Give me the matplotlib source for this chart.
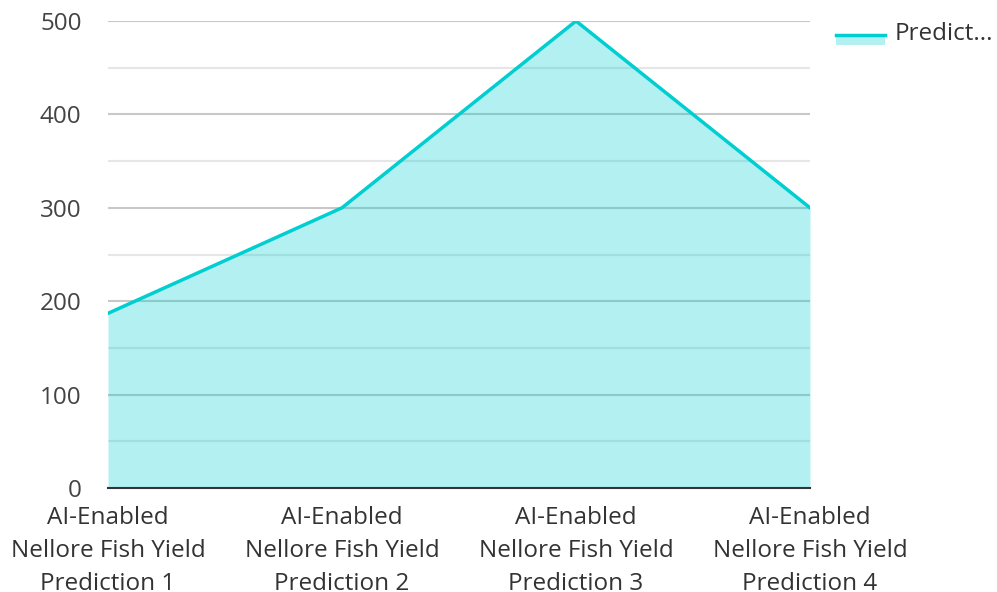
import matplotlib.pyplot as plt
from matplotlib.patches import Rectangle
from matplotlib.lines import Line2D

plt.rcParams['font.family'] = ['Open Sans', 'DejaVu Sans']

categories = ["AI-Enabled\nNellore Fish Yield\nPrediction 1",
              "AI-Enabled\nNellore Fish Yield\nPrediction 2",
              "AI-Enabled\nNellore Fish Yield\nPrediction 3",
              "AI-Enabled\nNellore Fish Yield\nPrediction 4"]
values = [187, 300, 500, 300]
yticks = [0, 100, 200, 300, 400, 500]
minor_ticks = [50, 150, 250, 350, 450]
legend_label = "Predict..."

line_color = "#00CED1"
fill_color = "#00CED1"

fig = plt.figure(figsize=(9.97, 5.92), dpi=100)
ax = fig.add_axes([108 / 997, 1 - 488 / 592, (810 - 108) / 997, (488 - 21) / 592])

x = list(range(len(categories)))
ax.fill_between(x, values, 0, color=fill_color, alpha=0.3, linewidth=0, zorder=3)
ax.plot(x, values, color=line_color, linewidth=2.5, zorder=4, solid_joinstyle='miter')

for v in yticks[1:]:
    ax.axhline(v, color="#c8c8c8", linewidth=1.5, zorder=1)
for v in minor_ticks:
    ax.axhline(v, color="#e6e6e6", linewidth=1.5, zorder=1)

ax.set_xlim(0, 3)
ax.set_ylim(0, 500)
ax.set_yticks(yticks)
ax.set_xticks(x)
ax.set_xticklabels(categories, fontsize=17.5, color="#333333", linespacing=1.5)
ax.tick_params(axis='y', labelsize=17.5, labelcolor="#444444", length=0, pad=19)
ax.tick_params(axis='x', length=0, pad=13)

for s in ['top', 'right', 'left']:
    ax.spines[s].set_visible(False)
ax.spines['bottom'].set_color("#333333")
ax.spines['bottom'].set_linewidth(1.5)
ax.spines['bottom'].set_zorder(5)
ax.set_facecolor('none')

# legend swatch drawn in figure pixels
W, H = 997, 592
fig.patches.append(Rectangle((836 / W, 1 - 45 / H), 49 / W, 10 / H,
                             transform=fig.transFigure, facecolor=fill_color,
                             alpha=0.3, linewidth=0))
fig.lines.append(Line2D([836 / W, 885 / W], [1 - 35 / H, 1 - 35 / H],
                        transform=fig.transFigure, color=line_color, linewidth=2.5))
fig.text(895 / W, 1 - 34 / H, legend_label, fontsize=17.5, color="#333333",
         va='center', ha='left')

fig.savefig("out.png", dpi=100)
